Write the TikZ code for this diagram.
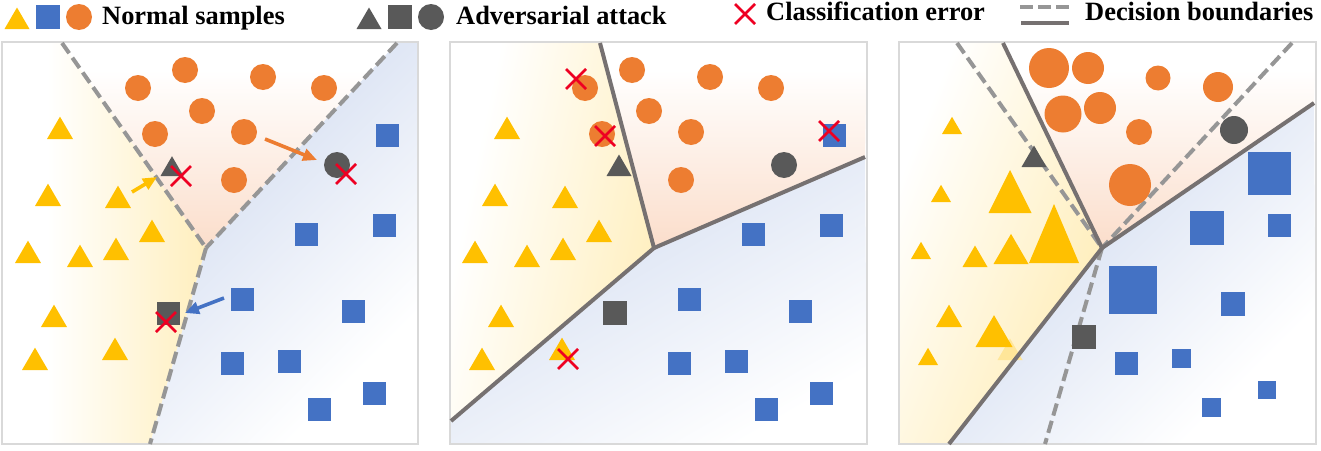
\documentclass[tikz,border=0pt]{standalone}
\usepackage{fontspec}
\setmainfont{Liberation Serif}
\usetikzlibrary{arrows.meta}
\definecolor{cyel}{HTML}{FFC000}
\definecolor{cblu}{HTML}{4472C4}
\definecolor{cora}{HTML}{ED7D31}
\definecolor{cdrk}{HTML}{595959}
\definecolor{cred}{HTML}{EE0022}
\definecolor{cdash}{HTML}{969696}
\definecolor{csol}{HTML}{767171}
\definecolor{cfrm}{HTML}{D9D9D9}
\definecolor{gyel}{HTML}{FFEFBF}
\definecolor{gblu}{HTML}{E0E7F5}
\definecolor{gora}{HTML}{FBDDCA}
\tikzset{
  dashline/.style={draw=cdash,line width=4pt,dash pattern=on 12.5pt off 5.5pt},
  solidline/.style={draw=csol,line width=4pt},
  crossmark/.style={draw=cred,line width=2.8pt},
  frame/.style={draw=cfrm,line width=2pt},
  legendtext/.style={font=\fontsize{26.4}{26.4}\selectfont\bfseries,anchor=base west,inner sep=0pt,text=black},
  attackarrow/.style={line width=3.6pt,-{Triangle[width=12pt,length=14pt]}}
}
\newcommand\tri[4]{\fill[#4] ({#1-#3/2},#2) -- ({#1+#3/2},#2) -- (#1,{#2-0.86*#3}) -- cycle;}
\newcommand\triH[4]{\fill[cyel] ({#1-#3/2},#2) -- ({#1+#3/2},#2) -- (#1,{#2-#4}) -- cycle;}
\newcommand\sqr[4]{\fill[#4] ({#1-#3/2},{#2-#3/2}) rectangle ({#1+#3/2},{#2+#3/2});}
\newcommand\cir[4]{\fill[#4] (#1,#2) circle (#3);}
\newcommand\crs[2]{\draw[crossmark] ({#1-10},{#2-10}) -- ({#1+10},{#2+10}) ({#1-10},{#2+10}) -- ({#1+10},{#2-10});}
% centre x, centre y, gradient length, angle, colour from, colour to
\newcount\gradno
\newcommand\grad[6]{%
  \global\advance\gradno by 1
  \pgfmathsetmacro\gradlo{50-25*#3/1000}%
  \pgfmathsetmacro\gradhi{50+25*#3/1000}%
  \edef\gradtmp{\noexpand\pgfdeclareverticalshading{gradsh\the\gradno}{100bp}{color(0bp)=(#6); color(\gradlo bp)=(#6); color(\gradhi bp)=(#5); color(100bp)=(#5)}}%
  \gradtmp
  \shade[shading=gradsh\the\gradno,shading angle=#4] ({#1-500},{#2-500}) rectangle ({#1+500},{#2+500});}
\def\trilist{60/139,48/206,118/208,152/242,28/263,80/267,116/260,54/327,35/370}
\def\sqlist{387/135,306/234,384/225,242/299,353/311,232/363,289/361,374/393,319/409}
\def\cirlist{185/70,263/77,324/88,202/111,244/132,234/180}
\begin{document}
\begin{tikzpicture}[x=1pt,y=-1pt]
\useasboundingbox (0,0) rectangle (1321,450);
% legend
\tri{17}{29}{25}{cyel}
\sqr{48}{17}{24}{cblu}
\cir{79}{17}{13}{cora}
\node[legendtext] (lgA) at (102,24) {Normal samples};
\tri{369}{29}{25}{cdrk}
\sqr{400}{17}{24}{cdrk}
\cir{431}{17}{13}{cdrk}
\node[legendtext] (lgB) at (456,24) {Adversarial attack};
\crs{745}{14}
\node[legendtext] (lgC) at (766,20) {Classification error};
\coordinate (ldA) at (1020,7); \coordinate (ldB) at (1069,7);
\coordinate (lsA) at (1021,23); \coordinate (lsB) at (1069,23);
\draw[dashline] (ldA) -- (ldB);
\draw[solidline] (lsA) -- (lsB);
\node[legendtext] (lgD) at (1085,20) {Decision boundaries};

% ---------- panel 1
\coordinate (va) at (206,248);
\coordinate (aul) at (62,43);
\coordinate (aur) at (397,43);
\coordinate (ad) at (150,444);
\begin{scope}
\clip (2,42) -- (aul) -- (va) -- (ad) -- (2,444) -- cycle;
\grad{125}{245}{155}{90}{white}{gyel}
\end{scope}
\begin{scope}
\clip (aul) -- (va) -- (aur) -- cycle;
\grad{206}{160}{180}{0}{white}{gora}
\end{scope}
\begin{scope}
\clip (aur) -- (va) -- (ad) -- (418,444) -- (418,42) -- cycle;
\grad{295}{295}{200}{45}{gblu}{white}
\end{scope}
\draw[frame] (2,42) rectangle (418,444);
\draw[dashline] (aul) -- (va);
\draw[dashline] (aur) -- (va);
\draw[dashline] (va) -- (ad);
\foreach \x/\y in \trilist {\tri{\x}{\y}{26}{cyel}}
\tri{115}{360}{26}{cyel}
\foreach \x/\y in \sqlist {\sqr{\x}{\y}{23}{cblu}}
\foreach \x/\y in \cirlist {\cir{\x}{\y}{13}{cora}}
\cir{138}{88}{13}{cora}
\cir{155}{134}{13}{cora}
\tri{172}{176}{23}{cdrk}
\cir{337}{165}{13}{cdrk}
\sqr{168}{313}{23}{cdrk}
\coordinate (yS) at (132,192); \coordinate (yT) at (157,177);
\coordinate (oS) at (265,139); \coordinate (oT) at (317,160);
\coordinate (bS) at (224,298); \coordinate (bT) at (185,313);
\draw[attackarrow,color=cyel] (yS) -- (yT);
\draw[attackarrow,color=cora] (oS) -- (oT);
\draw[attackarrow,color=cblu] (bS) -- (bT);
\crs{181}{176}
\crs{346}{174}
\crs{166}{322}

% ---------- panel 2
\coordinate (vb) at (654,248);
\coordinate (bu) at (600,43);
\coordinate (br) at (865,157);
\coordinate (bl) at (451,421);
\begin{scope}
\clip (450,42) -- (bu) -- (vb) -- (bl) -- cycle;
\grad{575}{170}{200}{78}{white}{gyel}
\end{scope}
\begin{scope}
\clip (bu) -- (vb) -- (br) -- (867,42) -- cycle;
\grad{654}{160}{180}{0}{white}{gora}
\end{scope}
\begin{scope}
\clip (br) -- (vb) -- (bl) -- (450,444) -- (867,444) -- cycle;
\grad{690}{340}{230}{30}{gblu}{white}
\end{scope}
\draw[frame] (450,42) rectangle (867,444);
\draw[solidline] (bu) -- (vb);
\draw[solidline] (br) -- (vb);
\draw[solidline] (vb) -- (bl);
\begin{scope}[xshift=447pt]
\foreach \x/\y in \trilist {\tri{\x}{\y}{26}{cyel}}
\tri{115}{360}{26}{cyel}
\foreach \x/\y in \sqlist {\sqr{\x}{\y}{23}{cblu}}
\foreach \x/\y in \cirlist {\cir{\x}{\y}{13}{cora}}
\end{scope}
\cir{585}{88}{13}{cora}
\cir{602}{134}{13}{cora}
\tri{619}{176}{25}{cdrk}
\cir{784}{165}{13}{cdrk}
\sqr{615}{313}{24}{cdrk}
\crs{576}{79}
\crs{605}{136}
\crs{829}{131}
\crs{568}{359}

% ---------- panel 3
\coordinate (vc) at (1102,248);
\coordinate (cu) at (1003,43);
\coordinate (cr) at (1314,103);
\coordinate (cl) at (949,444);
\coordinate (dul) at (957,43);
\coordinate (dur) at (1292,43);
\coordinate (dd) at (1045,444);
\begin{scope}
\clip (899,42) -- (cu) -- (vc) -- (cl) -- (899,444) -- cycle;
\grad{1000}{210}{210}{68}{white}{gyel}
\end{scope}
\begin{scope}
\clip (cu) -- (vc) -- (cr) -- (1316,42) -- cycle;
\grad{1102}{160}{180}{0}{white}{gora}
\end{scope}
\begin{scope}
\clip (cr) -- (vc) -- (cl) -- (1316,444) -- cycle;
\grad{1190}{295}{200}{45}{gblu}{white}
\end{scope}
\draw[frame] (899,42) rectangle (1316,444);
\draw[dashline] (dul) -- (vc);
\draw[dashline] (dur) -- (vc);
\draw[dashline] (vc) -- (dd);
\tri{1010}{360}{25}{cyel!40!white}
\draw[solidline] (cu) -- (vc);
\draw[solidline] (cr) -- (vc);
\draw[solidline] (vc) -- (cl);
\tri{952}{134}{20}{cyel}
\tri{941}{202}{20}{cyel}
\triH{1010}{213}{43}{43}
\triH{1054}{263}{50}{59}
\tri{921}{259}{20}{cyel}
\tri{975}{267}{25}{cyel}
\tri{1011}{264}{35}{cyel}
\tri{949}{327}{26}{cyel}
\tri{994}{347}{37}{cyel}
\tri{928}{365}{20}{cyel}
\tri{1034}{167}{25}{cdrk}
\sqr{1269}{173}{43}{cblu}
\sqr{1207}{228}{34}{cblu}
\sqr{1279}{225}{23}{cblu}
\sqr{1133}{290}{48}{cblu}
\sqr{1233}{304}{24}{cblu}
\sqr{1126}{363}{23}{cblu}
\sqr{1181}{358}{19}{cblu}
\sqr{1267}{390}{18}{cblu}
\sqr{1211}{407}{19}{cblu}
\sqr{1084}{337}{24}{cdrk}
\cir{1049}{68}{20}{cora}
\cir{1088}{68}{16}{cora}
\cir{1158}{78}{12.5}{cora}
\cir{1218}{87}{15}{cora}
\cir{1063}{114}{18.5}{cora}
\cir{1100}{108}{16}{cora}
\cir{1139}{132}{13}{cora}
\cir{1130}{185}{21}{cora}
\cir{1234}{130}{14}{cdrk}
\end{tikzpicture}
\end{document}
